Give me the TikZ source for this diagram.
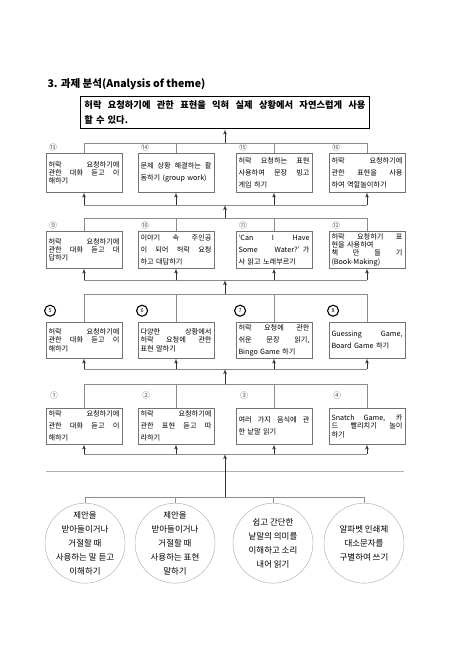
\documentclass[tikz,border=0pt]{standalone}
\usepackage{fontspec}
\setmainfont{Noto Sans CJK KR}
\usepackage{tikz}
\usetikzlibrary{arrows}
\usetikzlibrary{positioning}
\newcommand{\jline}[1]{\makebox[\linewidth][s]{\spaceskip=.3em plus 1fil\relax #1}\\}

\begin{document}
\begin{tikzpicture}[x=1bp,y=-1bp,>=latex',
    task node/.style={rectangle,draw=black!55,anchor=north,text width=71bp,inner xsep=2.5bp,inner ysep=2bp,
                      align=left,font=\fontsize{7.2}{12}\selectfont},
    tight/.style={font=\fontsize{7.2}{8.2}\selectfont},
    num node/.style={inner sep=0pt,text=black!60,font=\fontsize{8}{8}\selectfont},
    ring node/.style={circle,draw,line width=1.1pt,inner sep=0pt,minimum size=11bp,font=\fontsize{5.5}{5.5}\selectfont},
    base node/.style={circle,draw=black!35,anchor=north,minimum size=80bp,inner sep=-25bp,align=center,
                      font=\fontsize{8.5}{14}\selectfont},
    tree/.style={draw=black!45,line width=0.6pt},
    up/.style={->,draw=black!80,line width=0.75pt}]
    \useasboundingbox (0,0) rectangle (474,670);

    \node[anchor=base west,font=\fontsize{10.6}{12}\selectfont\bfseries] (title) at (44,88) {3. 과제 분석(Analysis of theme)};
    \node[draw,line width=1.3pt,anchor=north,text width=281bp,minimum height=32bp,inner xsep=4bp,align=left,
          font=\fontsize{9.3}{15}\selectfont\bfseries] (goal) at (225,96)
        {\jline{허락 요청하기에 관한 표현을 익혀 실제 상황에서 자연스럽게 사용}할 수 있다.};

    % bus points
    \coordinate (hub1) at (225,143);
    \coordinate (hub2) at (225,205);
    \coordinate (hub3) at (225,218);
    \coordinate (hub4) at (225,280);
    \coordinate (hub5) at (225,294);
    \coordinate (hub6) at (225,369);
    \coordinate (hub7) at (225,384);
    \coordinate (hub8) at (225,454);
    \coordinate (hub9) at (225,497);

    % row 13-16
    \node[task node,minimum height=39bp,tight] (b13) at (84,153) {\jline{허락 요청하기에}\jline{관한 대화 듣고 이}해하기};
    \node[task node,minimum height=39bp] (b14) at (176,153) {\jline{문제 상황 해결하는 활}동하기 (group work)};
    \node[task node,minimum height=39bp] (b15) at (274,153) {\jline{허락 요청하는 표현}\jline{사용하여 문장 빙고}게임 하기};
    \node[task node,minimum height=39bp] (b16) at (367,153) {\jline{허락 요청하기에}\jline{관한 표현을 사용}하여 역할놀이하기};

    % row 9-12
    \node[task node,minimum height=37bp,tight] (b9) at (84,231) {\jline{허락 요청하기에}\jline{관한 대화 듣고 대}답하기};
    \node[task node,minimum height=37bp] (b10) at (176,231) {\jline{이야기 속 주인공}\jline{이 되어 허락 요청}하고 대답하기};
    \node[task node,minimum height=37bp] (b11) at (274,231) {\jline{`Can I Have}\jline{Some Water?' 가}사 읽고 노래부르기};
    \node[task node,minimum height=37bp,tight] (b12) at (367,231) {\jline{허락 요청하기 표}현을 사용하여\\\jline{책 만 들 기}(Book-Making)};

    % row 5-8
    \node[task node,minimum height=36bp,tight] (b5) at (84,322) {\jline{허락 요청하기에}\jline{관한 대화 듣고 이}해하기};
    \node[task node,minimum height=36bp,tight] (b6) at (176,322) {\jline{다양한 상황에서}\jline{허락 요청에 관한}표현 말하기};
    \node[task node,minimum height=36bp] (b7) at (274,322) {\jline{허락 요청에 관한}\jline{쉬운 문장 읽기,}Bingo Game 하기};
    \node[task node,minimum height=36bp] (b8) at (367,322) {\jline{Guessing Game,}Board Game 하기};

    % row 1-4
    \node[task node,minimum height=36bp] (b1) at (84,408) {\jline{허락 요청하기에}\jline{관한 대화 듣고 이}해하기};
    \node[task node,minimum height=36bp] (b2) at (176,408) {\jline{허락 요청하기에}\jline{관한 표현 듣고 따}라하기};
    \node[task node,minimum height=36bp] (b3) at (274,408) {\jline{여러 가지 음식에 관}한 낱말 읽기};
    \node[task node,minimum height=36bp,tight] (b4) at (367,408) {\jline{Snatch Game, 카}\jline{드 빨리치기 놀이}하기};

    % numbers
    \foreach \b/\t in {13/⑬,14/⑭,15/⑮,16/⑯,9/⑨,10/⑩,11/⑪,12/⑫}
        \node[num node,above right=2bp and 3bp of b\b.north west] (n\b) {\t};
    \foreach \b/\t in {1/①,2/②,3/③,4/④}
        \node[num node,above right=9bp and 4bp of b\b.north west] (n\b) {\t};
    \foreach \b in {5,6,7,8}
        \node[ring node,above right=7bp and 0bp of b\b.north west] (n\b) {\b};

    % base circles
    \node[base node] (c1) at (85,503) {제안을\\받아들이거나\\거절할 때\\사용하는 말 듣고\\이해하기};
    \node[base node] (c2) at (175,503) {제안을\\받아들이거나\\거절할 때\\사용하는 표현\\말하기};
    \node[base node] (c3) at (273,503) {쉽고 간단한\\낱말의 의미를\\이해하고 소리\\내어 읽기};
    \node[base node] (c4) at (364,503) {알파벳 인쇄체\\대소문자를\\구별하여 쓰기};

    % tree lines
    \foreach \a/\b/\c/\d/\top/\bot in {b13/b14/b15/b16/hub1/hub2, b9/b10/b11/b12/hub3/hub4,
                                        b5/b6/b7/b8/hub5/hub6, b1/b2/b3/b4/hub7/hub8} {
        \draw[tree] (\a.north) -- (\a.north |- \top) -- (\d.north |- \top) -- (\d.north);
        \draw[tree] (\b.north) -- (\b.north |- \top);
        \draw[tree] (\c.north) -- (\c.north |- \top);
        \draw[tree] (\a.south |- \bot) -- (\d.south |- \bot);
        \foreach \e in {\a,\b,\c,\d}
            \draw[up] (\e.south |- \bot) -- (\e.south);
    }
    \draw[tree] (c1.north) -- (c1.north |- hub9) -- (c4.north |- hub9) -- (c4.north);
    \draw[tree] (c2.north) -- (c2.north |- hub9);
    \draw[tree] (c3.north) -- (c3.north |- hub9);

    \draw[black!30,line width=0.5pt] (46,471) -- (404,471);

    \draw[up] (hub1) -- (goal.south);
    \draw[up] (hub3) -- (hub2);
    \draw[up] (hub5) -- (hub4);
    \draw[up] (hub7) -- (hub6);
    \draw[up] (hub9) -- (hub8);
\end{tikzpicture}
\end{document}
